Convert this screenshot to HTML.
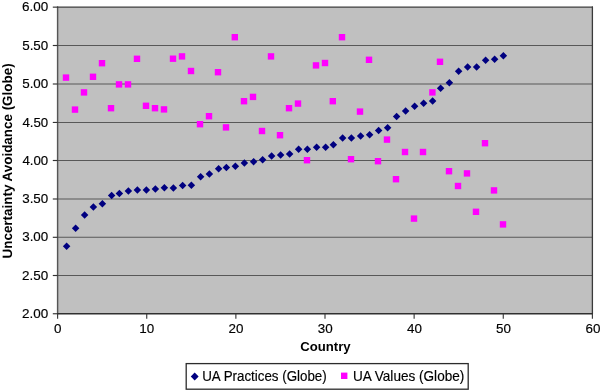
<!DOCTYPE html>
<html lang="en"><head><meta charset="utf-8"><title>Uncertainty Avoidance (Globe)</title>
<style>html,body{margin:0;padding:0;background:#fff;overflow:hidden}svg{display:block}text{font-family:"Liberation Sans",sans-serif;fill:#000}</style></head><body>
<svg width="600" height="390" viewBox="0 0 600 390">
<rect x="0" y="0" width="600" height="390" fill="#ffffff"/>
<rect x="57.6" y="7.15" width="534.8" height="306.6" fill="#c0c0c0"/>
<line x1="57.6" y1="275.50" x2="592.4" y2="275.50" stroke="#585858" stroke-width="1.1"/>
<line x1="57.6" y1="237.30" x2="592.4" y2="237.30" stroke="#585858" stroke-width="1.1"/>
<line x1="57.6" y1="199.00" x2="592.4" y2="199.00" stroke="#585858" stroke-width="1.1"/>
<line x1="57.6" y1="160.50" x2="592.4" y2="160.50" stroke="#585858" stroke-width="1.1"/>
<line x1="57.6" y1="122.45" x2="592.4" y2="122.45" stroke="#585858" stroke-width="1.1"/>
<line x1="57.6" y1="84.00" x2="592.4" y2="84.00" stroke="#585858" stroke-width="1.1"/>
<line x1="57.6" y1="45.50" x2="592.4" y2="45.50" stroke="#585858" stroke-width="1.1"/>
<line x1="57.6" y1="6.55" x2="57.6" y2="314.35" stroke="#565656" stroke-width="1.45"/>
<line x1="592.4" y1="6.55" x2="592.4" y2="314.35" stroke="#3a3a3a" stroke-width="1.3"/>
<line x1="57.0" y1="7.15" x2="593.0" y2="7.15" stroke="#3c3c3c" stroke-width="1.3"/>
<line x1="57.0" y1="313.75" x2="593.0" y2="313.75" stroke="#303030" stroke-width="1.3"/>
<line x1="52.800000000000004" y1="313.75" x2="57.6" y2="313.75" stroke="#333333" stroke-width="1.15"/>
<line x1="52.800000000000004" y1="275.50" x2="57.6" y2="275.50" stroke="#333333" stroke-width="1.15"/>
<line x1="52.800000000000004" y1="237.30" x2="57.6" y2="237.30" stroke="#333333" stroke-width="1.15"/>
<line x1="52.800000000000004" y1="199.00" x2="57.6" y2="199.00" stroke="#333333" stroke-width="1.15"/>
<line x1="52.800000000000004" y1="160.50" x2="57.6" y2="160.50" stroke="#333333" stroke-width="1.15"/>
<line x1="52.800000000000004" y1="122.45" x2="57.6" y2="122.45" stroke="#333333" stroke-width="1.15"/>
<line x1="52.800000000000004" y1="84.00" x2="57.6" y2="84.00" stroke="#333333" stroke-width="1.15"/>
<line x1="52.800000000000004" y1="45.50" x2="57.6" y2="45.50" stroke="#333333" stroke-width="1.15"/>
<line x1="52.800000000000004" y1="7.15" x2="57.6" y2="7.15" stroke="#333333" stroke-width="1.15"/>
<line x1="57.60" y1="313.75" x2="57.60" y2="318.75" stroke="#3a3a3a" stroke-width="1.15"/>
<line x1="146.73" y1="313.75" x2="146.73" y2="318.75" stroke="#3a3a3a" stroke-width="1.15"/>
<line x1="235.87" y1="313.75" x2="235.87" y2="318.75" stroke="#3a3a3a" stroke-width="1.15"/>
<line x1="325.00" y1="313.75" x2="325.00" y2="318.75" stroke="#3a3a3a" stroke-width="1.15"/>
<line x1="414.13" y1="313.75" x2="414.13" y2="318.75" stroke="#3a3a3a" stroke-width="1.15"/>
<line x1="503.27" y1="313.75" x2="503.27" y2="318.75" stroke="#3a3a3a" stroke-width="1.15"/>
<line x1="592.40" y1="313.75" x2="592.40" y2="318.75" stroke="#3a3a3a" stroke-width="1.15"/>
<g font-size="12.8" stroke="#000" stroke-width="0.15">
<text transform="translate(22.04 317.90) scale(1.0526 1)">2.00</text>
<text transform="translate(22.04 279.65) scale(1.0526 1)">2.50</text>
<text transform="translate(22.18 241.45) scale(1.0471 1)">3.00</text>
<text transform="translate(22.18 203.15) scale(1.0471 1)">3.50</text>
<text transform="translate(22.44 164.65) scale(1.0363 1)">4.00</text>
<text transform="translate(22.44 126.60) scale(1.0363 1)">4.50</text>
<text transform="translate(22.18 88.15) scale(1.0471 1)">5.00</text>
<text transform="translate(22.18 49.65) scale(1.0471 1)">5.50</text>
<text transform="translate(22.04 11.30) scale(1.0526 1)">6.00</text>
</g>
<g font-size="13.3" stroke="#000" stroke-width="0.15">
<text transform="translate(54.08 333.3) scale(1.0100 1)">0</text>
<text transform="translate(139.23 333.3) scale(1.0100 1)">10</text>
<text transform="translate(228.55 333.3) scale(1.0100 1)">20</text>
<text transform="translate(317.75 333.3) scale(1.0100 1)">30</text>
<text transform="translate(407.01 333.3) scale(1.0100 1)">40</text>
<text transform="translate(496.02 333.3) scale(1.0100 1)">50</text>
<text transform="translate(585.49 333.3) scale(1.0100 1)">60</text>
</g>
<g fill="#ff00ff">
<rect x="62.80" y="74.40" width="6.4" height="6.4"/>
<rect x="71.80" y="106.40" width="6.4" height="6.4"/>
<rect x="80.80" y="89.20" width="6.4" height="6.4"/>
<rect x="89.80" y="73.60" width="6.4" height="6.4"/>
<rect x="98.80" y="60.00" width="6.4" height="6.4"/>
<rect x="107.80" y="105.00" width="6.4" height="6.4"/>
<rect x="115.80" y="81.20" width="6.4" height="6.4"/>
<rect x="124.80" y="81.20" width="6.4" height="6.4"/>
<rect x="133.80" y="55.60" width="6.4" height="6.4"/>
<rect x="142.80" y="102.60" width="6.4" height="6.4"/>
<rect x="151.80" y="105.00" width="6.4" height="6.4"/>
<rect x="160.80" y="106.20" width="6.4" height="6.4"/>
<rect x="169.80" y="55.50" width="6.4" height="6.4"/>
<rect x="178.80" y="53.20" width="6.4" height="6.4"/>
<rect x="187.80" y="67.80" width="6.4" height="6.4"/>
<rect x="196.80" y="121.00" width="6.4" height="6.4"/>
<rect x="205.80" y="113.00" width="6.4" height="6.4"/>
<rect x="214.80" y="69.00" width="6.4" height="6.4"/>
<rect x="222.80" y="124.20" width="6.4" height="6.4"/>
<rect x="231.60" y="34.00" width="6.4" height="6.4"/>
<rect x="240.80" y="98.00" width="6.4" height="6.4"/>
<rect x="249.80" y="93.70" width="6.4" height="6.4"/>
<rect x="258.80" y="127.80" width="6.4" height="6.4"/>
<rect x="267.80" y="53.20" width="6.4" height="6.4"/>
<rect x="276.80" y="132.00" width="6.4" height="6.4"/>
<rect x="285.80" y="105.00" width="6.4" height="6.4"/>
<rect x="294.80" y="100.40" width="6.4" height="6.4"/>
<rect x="303.80" y="157.00" width="6.4" height="6.4"/>
<rect x="312.80" y="62.20" width="6.4" height="6.4"/>
<rect x="321.80" y="59.80" width="6.4" height="6.4"/>
<rect x="329.60" y="98.00" width="6.4" height="6.4"/>
<rect x="338.80" y="34.00" width="6.4" height="6.4"/>
<rect x="347.80" y="156.00" width="6.4" height="6.4"/>
<rect x="356.80" y="108.40" width="6.4" height="6.4"/>
<rect x="365.80" y="56.60" width="6.4" height="6.4"/>
<rect x="374.80" y="158.00" width="6.4" height="6.4"/>
<rect x="383.80" y="136.40" width="6.4" height="6.4"/>
<rect x="392.80" y="176.00" width="6.4" height="6.4"/>
<rect x="401.80" y="148.80" width="6.4" height="6.4"/>
<rect x="410.80" y="215.40" width="6.4" height="6.4"/>
<rect x="419.80" y="148.80" width="6.4" height="6.4"/>
<rect x="429.20" y="89.20" width="6.4" height="6.4"/>
<rect x="436.80" y="58.60" width="6.4" height="6.4"/>
<rect x="445.80" y="168.00" width="6.4" height="6.4"/>
<rect x="454.80" y="182.80" width="6.4" height="6.4"/>
<rect x="463.80" y="170.20" width="6.4" height="6.4"/>
<rect x="472.80" y="208.60" width="6.4" height="6.4"/>
<rect x="481.80" y="140.00" width="6.4" height="6.4"/>
<rect x="490.80" y="187.20" width="6.4" height="6.4"/>
<rect x="499.80" y="221.20" width="6.4" height="6.4"/>
</g>
<g fill="#000080">
<path d="M66.60 242.55L70.35 246.30L66.60 250.05L62.85 246.30Z"/>
<path d="M75.60 224.55L79.35 228.30L75.60 232.05L71.85 228.30Z"/>
<path d="M84.60 211.15L88.35 214.90L84.60 218.65L80.85 214.90Z"/>
<path d="M93.40 203.15L97.15 206.90L93.40 210.65L89.65 206.90Z"/>
<path d="M102.40 199.95L106.15 203.70L102.40 207.45L98.65 203.70Z"/>
<path d="M111.60 191.75L115.35 195.50L111.60 199.25L107.85 195.50Z"/>
<path d="M119.40 189.75L123.15 193.50L119.40 197.25L115.65 193.50Z"/>
<path d="M128.40 187.15L132.15 190.90L128.40 194.65L124.65 190.90Z"/>
<path d="M137.40 186.15L141.15 189.90L137.40 193.65L133.65 189.90Z"/>
<path d="M146.40 186.15L150.15 189.90L146.40 193.65L142.65 189.90Z"/>
<path d="M155.40 185.15L159.15 188.90L155.40 192.65L151.65 188.90Z"/>
<path d="M164.40 183.95L168.15 187.70L164.40 191.45L160.65 187.70Z"/>
<path d="M173.40 184.15L177.15 187.90L173.40 191.65L169.65 187.90Z"/>
<path d="M182.60 181.75L186.35 185.50L182.60 189.25L178.85 185.50Z"/>
<path d="M191.40 181.55L195.15 185.30L191.40 189.05L187.65 185.30Z"/>
<path d="M200.60 172.95L204.35 176.70L200.60 180.45L196.85 176.70Z"/>
<path d="M209.40 170.15L213.15 173.90L209.40 177.65L205.65 173.90Z"/>
<path d="M218.60 164.95L222.35 168.70L218.60 172.45L214.85 168.70Z"/>
<path d="M226.40 163.75L230.15 167.50L226.40 171.25L222.65 167.50Z"/>
<path d="M235.40 162.55L239.15 166.30L235.40 170.05L231.65 166.30Z"/>
<path d="M244.40 159.15L248.15 162.90L244.40 166.65L240.65 162.90Z"/>
<path d="M253.60 157.95L257.35 161.70L253.60 165.45L249.85 161.70Z"/>
<path d="M262.60 155.95L266.35 159.70L262.60 163.45L258.85 159.70Z"/>
<path d="M271.60 152.35L275.35 156.10L271.60 159.85L267.85 156.10Z"/>
<path d="M280.60 151.25L284.35 155.00L280.60 158.75L276.85 155.00Z"/>
<path d="M289.60 150.15L293.35 153.90L289.60 157.65L285.85 153.90Z"/>
<path d="M298.60 145.55L302.35 149.30L298.60 153.05L294.85 149.30Z"/>
<path d="M307.40 145.55L311.15 149.30L307.40 153.05L303.65 149.30Z"/>
<path d="M316.60 143.55L320.35 147.30L316.60 151.05L312.85 147.30Z"/>
<path d="M325.60 143.55L329.35 147.30L325.60 151.05L321.85 147.30Z"/>
<path d="M333.40 140.95L337.15 144.70L333.40 148.45L329.65 144.70Z"/>
<path d="M342.60 134.15L346.35 137.90L342.60 141.65L338.85 137.90Z"/>
<path d="M351.40 134.15L355.15 137.90L351.40 141.65L347.65 137.90Z"/>
<path d="M360.60 132.35L364.35 136.10L360.60 139.85L356.85 136.10Z"/>
<path d="M369.60 130.95L373.35 134.70L369.60 138.45L365.85 134.70Z"/>
<path d="M378.60 126.75L382.35 130.50L378.60 134.25L374.85 130.50Z"/>
<path d="M387.60 123.95L391.35 127.70L387.60 131.45L383.85 127.70Z"/>
<path d="M396.60 112.75L400.35 116.50L396.60 120.25L392.85 116.50Z"/>
<path d="M405.60 107.15L409.35 110.90L405.60 114.65L401.85 110.90Z"/>
<path d="M414.60 102.55L418.35 106.30L414.60 110.05L410.85 106.30Z"/>
<path d="M423.60 99.55L427.35 103.30L423.60 107.05L419.85 103.30Z"/>
<path d="M432.60 97.15L436.35 100.90L432.60 104.65L428.85 100.90Z"/>
<path d="M440.60 84.55L444.35 88.30L440.60 92.05L436.85 88.30Z"/>
<path d="M449.40 78.95L453.15 82.70L449.40 86.45L445.65 82.70Z"/>
<path d="M458.60 67.55L462.35 71.30L458.60 75.05L454.85 71.30Z"/>
<path d="M467.60 63.15L471.35 66.90L467.60 70.65L463.85 66.90Z"/>
<path d="M476.60 63.15L480.35 66.90L476.60 70.65L472.85 66.90Z"/>
<path d="M485.60 56.55L489.35 60.30L485.60 64.05L481.85 60.30Z"/>
<path d="M494.60 55.55L498.35 59.30L494.60 63.05L490.85 59.30Z"/>
<path d="M503.40 51.95L507.15 55.70L503.40 59.45L499.65 55.70Z"/>
</g>
<text transform="translate(300.19 351.35) scale(1.0215 1)" font-size="12.9" font-weight="bold" stroke="#000" stroke-width="0">Country</text>
<text transform="translate(11.85 0) rotate(-90.03) translate(-258.46 0) scale(0.9876 1)" font-size="13.6" font-weight="bold" stroke="#000" stroke-width="0">Uncertainty Avoidance (Globe)</text>
<rect x="186.2" y="363.6" width="282.0" height="25.6" fill="#ffffff" stroke="#2c2c2c" stroke-width="1.3"/>
<path d="M194.7 372.55L198.64999999999998 376.5L194.7 380.45L190.75 376.5Z" fill="#000080"/>
<g font-size="14.0" stroke="#000" stroke-width="0.15">
<text transform="translate(202.13 381.2) scale(0.9538 1)">UA Practices (Globe)</text>
<text transform="translate(352.91 381.2) scale(0.9701 1)">UA Values (Globe)</text>
</g>
<rect x="341.00" y="372.60" width="6.4" height="6.4" fill="#ff00ff"/>
</svg></body></html>
